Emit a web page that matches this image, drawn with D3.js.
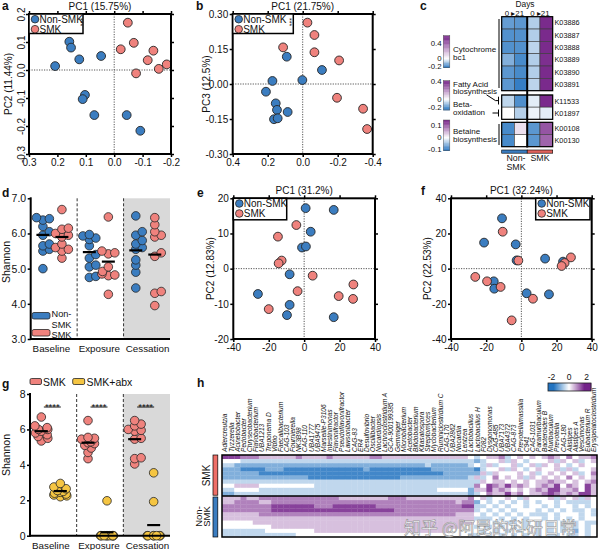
<!DOCTYPE html>
<html>
<head>
<meta charset="utf-8">
<script src="https://cdn.jsdelivr.net/npm/d3@7"></script>
<style>
  body { margin: 0; background: #fff; }
</style>
</head>
<body>
<svg id="fig" width="600" height="550"></svg>
<script>
// ---------- data ----------

// a: PCoA PC1 vs PC2
var aNonPC1 = [0.158, 0.152, 0.208, 0.123, 0.046, 0.103, 0.111, 0.070, -0.044, -0.092];
var aNonPC2 = [0.101, 0.080, 0.014, 0.038, 0.050, -0.089, -0.104, -0.161, -0.161, -0.217];
var aSmkPC1 = [-0.048, -0.069, -0.023, -0.138, -0.118, -0.185, -0.157, -0.077];
var aSmkPC2 = [0.169, 0.097, 0.074, 0.069, 0.035, 0.020, 0.004, -0.012];

// b: PC1 vs PC3
var bNonPC1 = [0.091, -0.110, 0.173, 0.002, 0.210, 0.154, 0.147, 0.086, 0.164, 0.143];
var bNonPC3 = [0.117, 0.060, 0.013, 0.017, -0.033, -0.083, -0.111, -0.120, -0.151, -0.147];
var bSmkPC1 = [-0.027, -0.067, 0.112, -0.067, -0.208, -0.196, -0.345, -0.368];
var bSmkPC3 = [0.263, 0.210, 0.157, 0.136, 0.101, -0.059, -0.106, -0.193];

// c: KO heatmap (Non-SMK d0, d21, SMK d0, d21)
var cCols = ["Non-SMK 0", "Non-SMK 21", "SMK 0", "SMK 21"];
var cKO = [["K03886", "K03887", "K03888", "K03889", "K03890", "K03891"], ["K11533", "K01897"], ["K00108", "K00130"]];
var cVals = [
  [[-0.16, -0.17, -0.08, 0.55], [-0.18, -0.18, -0.08, 0.56], [-0.18, -0.18, -0.07, 0.55],
   [-0.13, -0.19, -0.08, 0.54], [-0.17, -0.19, -0.08, 0.55], [-0.17, -0.21, -0.07, 0.56]],
  [[-0.07, -0.19, -0.03, 0.40], [0.0, -0.08, -0.02, -0.03]],
  [[-0.09, 0.02, -0.08, 0.11], [-0.09, 0.0, -0.08, 0.10]]
];
var cBarDomain = [[-0.245, 0.6], [-0.255, 0.42], [-0.115, 0.15]];
var cBarTicks = [[0.4, 0, -0.2], [0.4, 0, -0.2], [0.1, 0, -0.1]];
var cTickText = [["0.4", "0", "-0.2"], ["0.4", "0", "-0.2"], ["0.1", "0", "-0.1"]];

// d: Shannon, Non-SMK vs SMK
var phases = ["Baseline", "Exposure", "Cessation"];
var dShannonNon = [
  [6.45, 6.42, 6.38, 6.2, 6.05, 5.95, 5.7, 5.65, 5.55, 5.5, 5.0],
  [5.97, 5.93, 5.87, 5.83, 5.65, 5.4, 5.3, 5.1, 5.05, 4.78, 4.75],
  [6.5, 6.05, 5.95, 5.8, 5.7, 5.6, 5.55, 5.25, 5.1, 4.9, 4.45]];
var dShannonSmk = [
  [6.68, 6.15, 6.12, 6.0, 5.95, 5.9, 5.7, 5.6, 5.55, 5.5, 5.3],
  [6.47, 5.5, 5.45, 5.42, 5.05, 4.92, 4.85, 4.82, 4.8, 4.27],
  [6.45, 6.25, 6.05, 5.95, 5.9, 5.45, 5.35, 4.35, 4.3, 3.95]];
var dMeanNon = [5.96, 5.47, 5.52];
var dMeanSmk = [5.9, 5.2, 5.4];

// e, f: PCA
var eNonPC1 = [0.85, 16.7, 3.7, -1.2, 1.0, -8.2, -26.1, -8.2, -9.7, 16.7];
var eNonPC2 = [17.2, 16.7, 10.5, 6.0, 6.3, -1.6, -7.2, -10.3, -13.2, -13.8];
var eSmkPC1 = [-4.4, -14.8, -12.7, -14.4, 4.8, -3.7, 27.8, 19.5, 27.6, -20.0];
var eSmkPC2 = [12.4, 9.1, 2.3, 1.5, -2.0, -6.4, -4.5, -7.8, -8.6, -11.5];

var fNonPC1 = [-11.0, -21.2, -3.2, -2.7, 13.5, 23.7, -15.7, -15.4, 3.0, 15.7];
var fNonPC2 = [28.6, 14.8, 13.8, 4.7, 5.7, 4.0, -7.2, -11.4, -14.0, -14.6];
var fSmkPC1 = [-10.6, -1.7, 28.2, 24.6, 22.9, -26.2, -19.5, -11.8, 6.6, -5.5];
var fSmkPC2 = [21.0, 4.6, 6.4, 3.2, 1.5, -4.7, -7.2, -10.4, -17.1, -29.4];

// g: Shannon, SMK vs SMK+abx
var gShannonSmk = [
  [6.7, 6.2, 6.1, 6.0, 6.0, 5.9, 5.8, 5.7, 5.6, 5.5, 5.35],
  [6.5, 5.55, 5.5, 5.45, 5.3, 5.25, 5.2, 5.1, 4.95, 4.7, 4.35],
  [6.5, 6.3, 6.2, 6.0, 5.95, 5.9, 5.5, 5.45, 4.4, 4.35, 4.05]];
var gShannonAbx = [
  [2.95, 2.75, 2.65, 2.55, 2.5, 2.45, 2.4, 2.35, 2.25, 2.2, 2.3],
  [1.97, 0, 0, 0, 0, 0, 0, 0, 0, 0],
  [3.55, 1.92, 0, 0, 0, 0, 0, 0, 0]];
var gMeanSmk = [5.9, 5.25, 5.45];
var gMeanAbx = [2.52, 0.19, 0.6];
var gSig = ["****", "****", "****"];

// h: genus z-scores, digit d -> (d - 4) / 2
var hGenera = ["Adlercreutzia", "Tyzzerella", "Acinetobacter", "Pedobacter", "Chryseobacterium", "Flavobacterium",
  "UBA1213", "Treponema D", "Vibrio", "Faecalibacterium", "CAG-103", "Fournierella", "NK3B98", "CAG-110",
  "UBA1777", "UBA9475", "Marseille-P3106", "Intestinimonas", "Flavonifractor", "Pseudoflavonifractor",
  "Lawsonibacter", "CAG-83", "ER4", "Desulfovibrio", "Oscillibacter", "Nocardiopsis", "Lachnoclostridium A",
  "GCA-900199385", "Gemmiger", "Microbacterium", "Acetobacter", "Bifidobacterium", "Kitasatospora",
  "Streptomyces", "Mycobacterium", "Ruminiclostridium C", "CAG-170", "UBA2862", "Nocardia", "Lentzea",
  "Lactobacillus", "Lactobacillus H", "F082", "Dysgonomonas", "CAG-485", "UBA7173", "UBA4372", "CAG-873",
  "Prevotellamassilia", "C941", "CAG-1031", "Paramuribaculum", "Bacteroides B", "Muribaculum", "Prevotella",
  "CAG-180", "Alistipes", "Alistipes A", "Vescimonas", "Eubacterium R", "Erysipelatoclostridium"];
var hGroups = ["SMK", "Non-SMK"];
var hSmk = [
  "7776665555 5565555655 5555665555 5555555555 4 3455634545 4565464556",
  "4443333333 3333333333 3333333333 3333333333 3 2344535434 4453545345",
  "3322222222 2222222222 2222222222 2223222222 3 4353445345 3545434544",
  "2221111222 1111111111 1112111111 1111222222 2 1344535434 5445353445",
  "2222221111 1111111111 1111111111 1111112222 2 2535444545 3454545346",
  "2222222222 2222111111 1111111112 2222222222 3 5346454535 4545464545",
  "3333333333 3333333333 3333333333 3333333333 3 3545545454 5565545456",
  "4455554444 4444433333 3333333333 3333333333 3 6476575654 5657465475",
  "3344443333 3333333333 3333333333 3333344444 2 5575654545 6577556475",
  "2233333333 3333333333 3333333333 3333333333 2 3465575645 5676565775"];
var hNon = [
  "5556556666 6666666665 5555555666 5555555555 6 4534454354 4453545354",
  "5566665566 6666666666 6666666666 6666666656 6 2434343434 3443433334",
  "6666666677 7777766677 7777766666 6666666667 7 3343434434 4343443434",
  "6666666677 7777777777 7777777766 6666666666 6 3434343444 3434343343",
  "5555556666 6666666666 6666666666 6666666655 5 4343434343 3343444343",
  "5555555555 5555555555 5555555555 5555555555 5 3334343434 4343434344",
  "4444455555 5555555555 5555555555 5555555555 5 4343433434 3434343433",
  "4444444455 5555555555 5555555555 5555555554 4 3434343434 3434343434",
  "3333333444 4444455555 5555555555 5555555444 4 4343434344 3434342434",
  "3333333333 3344444444 4444444444 4444444444 3 3434343434 3433433434"];

// ---------- drawing ----------
var FONT = "'Liberation Sans', Arial, Helvetica, sans-serif";
var BLUE = "#3b7dc0", RED = "#ef827d", YEL = "#f5c542", EDGE = "#262626";

var svg = d3.select("#fig");
svg.append("rect").attr("width", 600).attr("height", 550).attr("fill", "#fff");

function label(g, s, x, y, size, o) {
  o = o || {};
  var t = g.append("text").attr("x", x).attr("y", y).text(s)
    .attr("font-size", size).attr("font-family", o.family || FONT).attr("fill", o.fill || "#111")
    .attr("text-anchor", o.anchor || "start");
  if (o.rot) t.attr("transform", "rotate(" + o.rot + "," + x + "," + y + ")");
  if (o.bold) t.attr("font-weight", "bold");
  if (o.italic) t.attr("font-style", "italic");
  return t;
}

function styleAxis(sel) {
  sel.attr("font-family", FONT).attr("font-size", 10);
  sel.select(".domain").remove();
  sel.selectAll(".tick line").attr("stroke", "#000").attr("stroke-width", 1.5);
  sel.selectAll(".tick text").attr("fill", "#111");
}

function scatter(o) {
  var g = svg.append("g");
  var x = d3.scaleLinear().domain(o.xdom).range([o.l, o.r]);
  var y = d3.scaleLinear().domain(o.ydom).range([o.b, o.t]);

  g.append("line").attr("x1", x(0)).attr("x2", x(0)).attr("y1", o.t).attr("y2", o.b)
    .attr("stroke", "#555").attr("stroke-width", 1).attr("stroke-dasharray", "1.2,1.3");
  g.append("line").attr("x1", o.l).attr("x2", o.r).attr("y1", y(0)).attr("y2", y(0))
    .attr("stroke", "#555").attr("stroke-width", 1).attr("stroke-dasharray", "1.2,1.3");

  var pts = o.nonX.map(function (v, i) { return { x: v, y: o.nonY[i], c: BLUE }; })
    .concat(o.smkX.map(function (v, i) { return { x: v, y: o.smkY[i], c: RED }; }));
  g.selectAll("circle.pt").data(pts).join("circle").attr("class", "pt")
    .attr("cx", function (d) { return x(d.x); })
    .attr("cy", function (d) { return y(d.y); })
    .attr("r", 4.4)
    .attr("fill", function (d) { return d.c; })
    .attr("stroke", EDGE).attr("stroke-width", 0.9);

  var bx = g.append("g").attr("transform", "translate(0," + o.b + ")")
    .call(d3.axisBottom(x).tickValues(o.xt).tickFormat(o.fx).tickSize(3).tickPadding(2).tickSizeOuter(0));
  styleAxis(bx);
  var tx = g.append("g").attr("transform", "translate(0," + o.t + ")")
    .call(d3.axisTop(x).tickValues(o.xt).tickFormat("").tickSize(3).tickSizeOuter(0));
  styleAxis(tx);
  var ly = g.append("g").attr("transform", "translate(" + o.l + ",0)")
    .call(d3.axisLeft(y).tickValues(o.yt).tickFormat(o.fy).tickSize(3).tickPadding(1.5).tickSizeOuter(0));
  styleAxis(ly);
  if (o.rotY) {
    ly.selectAll(".tick text").attr("x", 0).attr("y", 0).attr("dy", 0)
      .attr("text-anchor", "middle").attr("transform", "translate(-4.5,0) rotate(-90)");
  }
  var ry = g.append("g").attr("transform", "translate(" + o.r + ",0)")
    .call(d3.axisRight(y).tickValues(o.yt).tickFormat("").tickSize(3).tickSizeOuter(0));
  styleAxis(ry);

  g.append("rect").attr("x", o.l).attr("y", o.t).attr("width", o.r - o.l).attr("height", o.b - o.t)
    .attr("fill", "none").attr("stroke", "#000").attr("stroke-width", 2);

  label(g, o.title, (o.l + o.r) / 2, o.t - 4.5, 10, { anchor: "middle" });
  label(g, o.ylab, o.ylx, (o.t + o.b) / 2, 10, { anchor: "middle", rot: -90 });

  var lg = g.append("g").attr("transform", "translate(" + o.lg[0] + "," + o.lg[1] + ")");
  lg.append("rect").attr("width", o.lg[2]).attr("height", o.lg[3])
    .attr("fill", "#fff").attr("stroke", "#000").attr("stroke-width", 1.5);
  [["Non-SMK", BLUE], ["SMK", RED]].forEach(function (d, i) {
    lg.append("circle").attr("cx", 6).attr("cy", 5.2 + i * 10).attr("r", 3.8)
      .attr("fill", d[1]).attr("stroke", EDGE).attr("stroke-width", 0.8);
    label(lg, d[0], 10.5, 8.8 + i * 10, 10);
  });
  if (o.stars) {
    label(lg, "***", o.stars, 4, 7, { rot: 90 });
  }
}

scatter({ l: 29, r: 171, t: 14, b: 154, xdom: [0.3, -0.2], ydom: [-0.3, 0.2],
  xt: [0.3, 0.2, 0.1, 0, -0.1, -0.2], yt: [-0.3, -0.2, -0.1, 0, 0.1, 0.2],
  fx: function (d) { return d.toFixed(1); }, fy: function (d) { return d.toFixed(1); }, rotY: true,
  nonX: aNonPC1, nonY: aNonPC2, smkX: aSmkPC1, smkY: aSmkPC2,
  title: "PC1 (15.75%)", ylab: "PC2 (11.44%)", ylx: 11.5, lg: [29, 14, 54, 19.5], stars: 49 });

scatter({ l: 232.7, r: 372.7, t: 14, b: 154, xdom: [0.4, -0.4], ydom: [-0.3, 0.3],
  xt: [0.4, 0.2, 0, -0.2, -0.4], yt: [-0.3, -0.15, 0, 0.15, 0.3],
  fx: function (d) { return d.toFixed(1); }, fy: function (d) { return d.toFixed(2); },
  nonX: bNonPC1, nonY: bNonPC3, smkX: bSmkPC1, smkY: bSmkPC3,
  title: "PC1 (21.75%)", ylab: "PC3 (12.5%)", ylx: 209.5, lg: [232.7, 14, 60.6, 19.5], stars: 54 });

scatter({ l: 233.3, r: 375, t: 198.3, b: 339, xdom: [-40, 40], ydom: [-20, 20],
  xt: [-40, -20, 0, 20, 40], yt: [-20, -10, 0, 10, 20],
  fx: function (d) { return d; }, fy: function (d) { return d; },
  nonX: eNonPC1, nonY: eNonPC2, smkX: eSmkPC1, smkY: eSmkPC2,
  title: "PC1 (31.2%)", ylab: "PC2 (12.83%)", ylx: 214, lg: [233.3, 198.3, 53.4, 21.5] });

scatter({ l: 451, r: 591.7, t: 198.3, b: 339, xdom: [-40, 40], ydom: [-40, 40],
  xt: [-40, -20, 0, 20, 40], yt: [-40, -20, 0, 20, 40],
  fx: function (d) { return d; }, fy: function (d) { return d; },
  nonX: fNonPC1, nonY: fNonPC2, smkX: fSmkPC1, smkY: fSmkPC2,
  title: "PC1 (32.24%)", ylab: "PC2 (22.53%)", ylx: 431.5, lg: [535.7, 198.3, 54.3, 21.5] });

// tight swarm: dots of a group may overlap, as in the source
function swarm(vals, y, cx, r) {
  var placed = [];
  var order = vals.map(function (v, i) { return i; }).sort(function (a, b) { return vals[a] - vals[b]; });
  var steps = [0, 1, -1, 2, -2];
  var step = r * 0.75;
  order.forEach(function (i) {
    var py = y(vals[i]), px = null;
    for (var k = 0; k < steps.length; k++) {
      var cand = cx + steps[k] * step;
      if (placed.every(function (p) { return Math.hypot(p.x - cand, p.y - py) >= r * 1.15; })) { px = cand; break; }
    }
    if (px === null) px = cx + steps[placed.length % steps.length] * step * 0.9;
    placed.push({ x: px, y: py });
  });
  return placed;
}

function strip(o) {
  var g = svg.append("g");
  var x = d3.scaleBand().domain(phases).range([o.l, o.r]);
  var y = d3.scaleLinear().domain(o.ydom).range([o.b, o.t]);
  var xc = function (p) { return x(p) + x.bandwidth() / 2; };

  g.append("rect").attr("x", x("Cessation")).attr("y", o.t)
    .attr("width", o.r - x("Cessation")).attr("height", o.b - o.t).attr("fill", "#d9d9d9");
  ["Exposure", "Cessation"].forEach(function (p) {
    g.append("line").attr("x1", x(p)).attr("x2", x(p)).attr("y1", o.t).attr("y2", o.b)
      .attr("stroke", "#333").attr("stroke-width", 1).attr("stroke-dasharray", "3,2");
  });

  o.series.forEach(function (s) {
    phases.forEach(function (p, j) {
      var pos = swarm(s.vals[j], y, xc(p) + s.off, 4.3);
      g.selectAll(null).data(pos).join("circle")
        .attr("cx", function (d) { return d.x; }).attr("cy", function (d) { return d.y; })
        .attr("r", 4.3).attr("fill", s.color).attr("stroke", EDGE).attr("stroke-width", 0.8);
    });
  });
  o.series.forEach(function (s) {
    phases.forEach(function (p, j) {
      var cx = xc(p) + s.off;
      g.append("line").attr("x1", cx - 6.5).attr("x2", cx + 6.5)
        .attr("y1", y(s.mean[j])).attr("y2", y(s.mean[j]))
        .attr("stroke", "#000").attr("stroke-width", 2.2);
    });
  });

  var ay = g.append("g").attr("transform", "translate(" + o.l + ",0)")
    .call(d3.axisLeft(y).tickValues(o.yt).tickSize(3).tickPadding(1.5).tickSizeOuter(0));
  styleAxis(ay);
  ay.selectAll(".tick text").attr("font-size", 10.5);
  g.append("line").attr("x1", o.l).attr("x2", o.l).attr("y1", o.t - 1).attr("y2", o.b + 1)
    .attr("stroke", "#000").attr("stroke-width", 2);
  g.append("line").attr("x1", o.l).attr("x2", o.r).attr("y1", o.b).attr("y2", o.b)
    .attr("stroke", "#000").attr("stroke-width", 2);
  var nudge = [-2.5, -1, 0.8];
  phases.forEach(function (p, j) { label(g, p, xc(p) + nudge[j], o.b + 13, 9.8, { anchor: "middle" }); });
  label(g, "Shannon", o.ylx, o.ylc, 10.5, { anchor: "middle", rot: -90 });

  if (o.sig) {
    phases.forEach(function (p, j) {
      var c = xc(p) - 1;
      g.append("line").attr("x1", c - 8.5).attr("x2", c + 8.5).attr("y1", o.sigY).attr("y2", o.sigY)
        .attr("stroke", "#000").attr("stroke-width", 0.9);
      label(g, o.sig[j], c, o.sigY + 3, 9.5, { anchor: "middle" });
    });
  }
  return g;
}

var dG = strip({ l: 30.7, r: 170, t: 198.3, b: 339, ydom: [3, 7], yt: [3, 4, 5, 6, 7], ylx: 10, ylc: 262,
  series: [{ vals: dShannonNon, mean: dMeanNon, color: BLUE, off: -11 },
           { vals: dShannonSmk, mean: dMeanSmk, color: RED, off: 8 }] });
label(dG, "Non-", 51.5, 317.2, 9.2);
label(dG, "SMK", 51.5, 327.6, 9.2);
label(dG, "SMK", 51.5, 337.8, 9.2);
dG.append("rect").attr("x", 32).attr("y", 312.5).attr("width", 18).attr("height", 6.5).attr("rx", 2)
  .attr("fill", BLUE).attr("stroke", EDGE).attr("stroke-width", 0.8);
dG.append("rect").attr("x", 32).attr("y", 329.5).attr("width", 18).attr("height", 6.5).attr("rx", 2)
  .attr("fill", RED).attr("stroke", EDGE).attr("stroke-width", 0.8);

var gG = strip({ l: 30, r: 170, t: 394, b: 535.7, ydom: [0, 8], yt: [0, 2, 4, 6, 8], ylx: 9.5, ylc: 455,
  series: [{ vals: gShannonSmk, mean: gMeanSmk, color: RED, off: -12 },
           { vals: gShannonAbx, mean: gMeanAbx, color: YEL, off: 7 }],
  sig: gSig, sigY: 407 });
gG.append("rect").attr("x", 30).attr("y", 378.5).attr("width", 11.5).attr("height", 6).attr("rx", 1.5)
  .attr("fill", RED).attr("stroke", EDGE).attr("stroke-width", 0.8);
label(gG, "SMK", 43, 385.5, 10.5);
gG.append("rect").attr("x", 72.7).attr("y", 378.5).attr("width", 12).attr("height", 6).attr("rx", 1.5)
  .attr("fill", YEL).attr("stroke", EDGE).attr("stroke-width", 0.8);
label(gG, "SMK+abx", 86.5, 385.5, 10.5);

// ---------- c: KO heatmap ----------
var cG = svg.append("g");
var cx = d3.scaleBand().domain(cCols).range([501.7, 552.7]);
var cBlocks = [[16.7, 90.7], [95, 119.3], [122.3, 146.7]];
var cBars = [[35.7, 67.7], [80.7, 110], [120, 150.7]];
function cColor(b) {
  var dm = cBarDomain[b];
  return d3.scaleLinear().domain([dm[0] * 0.9, 0, dm[1] * 0.92]).range(["#2b78c2", "#ffffff", "#7a2a8c"]).clamp(true);
}
cKO.forEach(function (rows, b) {
  var ry = d3.scaleBand().domain(rows).range(cBlocks[b]);
  var col = cColor(b);
  rows.forEach(function (k, i) {
    cCols.forEach(function (c, j) {
      cG.append("rect").attr("x", cx(c)).attr("y", ry(k)).attr("width", cx.bandwidth()).attr("height", ry.bandwidth())
        .attr("fill", col(cVals[b][i][j])).attr("stroke", "#3a3a3a").attr("stroke-width", 0.6);
    });
    label(cG, k, 554.5, ry(k) + ry.bandwidth() / 2 + 2.6, 7.3);
  });
  cG.append("rect").attr("x", 501.7).attr("y", cBlocks[b][0]).attr("width", 51).attr("height", cBlocks[b][1] - cBlocks[b][0])
    .attr("fill", "none").attr("stroke", "#000").attr("stroke-width", 1.2);

  // small colour bar for the block
  var pos = d3.scaleLinear().domain(cBarDomain[b]).range([cBars[b][1], cBars[b][0]]);
  var n = 40, h = (cBars[b][1] - cBars[b][0]) / n;
  d3.range(n).forEach(function (s) {
    var v = pos.invert(cBars[b][1] - (s + 0.5) * h);
    cG.append("rect").attr("x", 443.3).attr("y", cBars[b][1] - (s + 1) * h).attr("width", 6.5).attr("height", h + 0.3)
      .attr("fill", col(v));
  });
  cG.append("rect").attr("x", 443.3).attr("y", cBars[b][0]).attr("width", 6.5).attr("height", cBars[b][1] - cBars[b][0])
    .attr("fill", "none").attr("stroke", "#555").attr("stroke-width", 0.5);
  cBarTicks[b].forEach(function (t, i) {
    label(cG, cTickText[b][i], 441.5, pos(t) + 2.7, 7.8, { anchor: "end" });
  });
});
cG.append("line").attr("x1", cx("SMK 0")).attr("x2", cx("SMK 0")).attr("y1", 16).attr("y2", 147.5)
  .attr("stroke", "#000").attr("stroke-width", 2);
// group bars under the heatmap
cG.append("rect").attr("x", 501.7).attr("y", 150).attr("width", cx("SMK 0") - 501.7).attr("height", 3.2)
  .attr("fill", BLUE).attr("stroke", "#000").attr("stroke-width", 0.6);
cG.append("rect").attr("x", cx("SMK 0")).attr("y", 150).attr("width", 552.7 - cx("SMK 0")).attr("height", 3.2)
  .attr("fill", "#e0625c").attr("stroke", "#000").attr("stroke-width", 0.6);
label(cG, "Non-", 516, 161.3, 8.8, { anchor: "middle" });
label(cG, "SMK", 516, 170.3, 8.8, { anchor: "middle" });
label(cG, "SMK", 540, 161.3, 8.8, { anchor: "middle" });
label(cG, "Days", 525, 6.8, 8.4, { anchor: "middle" });
label(cG, "0 \u25B821", cx("Non-SMK 21"), 16, 7.9, { anchor: "middle" });
label(cG, "0 \u25B821", cx("SMK 21"), 16, 7.9, { anchor: "middle" });
// brackets and group names
function cl(x1, y1, x2, y2) {
  cG.append("line").attr("x1", x1).attr("y1", y1).attr("x2", x2).attr("y2", y2)
    .attr("stroke", "#000").attr("stroke-width", 1);
}
cl(499, 19, 499, 88);
cl(499, 124, 499, 145);
cl(498.5, 96.7, 498.5, 104.5); cl(486.5, 94.8, 495.5, 100.6); cl(495.5, 100.6, 498.5, 100.6);
cl(498.5, 109.5, 498.5, 116.5); cl(492.5, 113, 498.5, 113);
label(cG, "Cytochrome", 453, 51.8, 8);
label(cG, "bc1", 453, 60, 8);
label(cG, "Fatty Acid", 453, 86.6, 8);
label(cG, "biosynthesis", 453, 94.4, 8);
label(cG, "Beta-", 453, 106.8, 8);
label(cG, "oxidation", 453, 114.8, 8);
label(cG, "Betaine", 453, 134.2, 8);
label(cG, "biosynthesis", 453, 142.2, 8);

// ---------- h: genus heatmap ----------
var hG = svg.append("g");
var hRows = hSmk.concat(hNon).map(function (s) {
  return s.replace(/ /g, "").split("").map(function (c) { return (+c - 4) / 2; });
});
var hx = d3.scaleBand().domain(hGenera).range([222, 597]);
var hy = d3.scaleBand().domain(d3.range(hRows.length)).range([455, 537]);
var hColor = d3.scaleLinear().domain([-1.75, 0, 1.75]).range(["#2273c0", "#ffffff", "#74238a"]).clamp(true);
hRows.forEach(function (row, i) {
  hG.selectAll(null).data(row).join("rect")
    .attr("x", function (d, j) { return hx(hGenera[j]); })
    .attr("y", hy(i))
    .attr("width", hx.bandwidth() + 0.3).attr("height", hy.bandwidth() + 0.3)
    .attr("fill", function (d) { return hColor(d); });
});
hG.append("rect").attr("x", 222).attr("y", 455).attr("width", 375).attr("height", 82)
  .attr("fill", "none").attr("stroke", "#000").attr("stroke-width", 1.5);
hG.append("line").attr("x1", 222).attr("x2", 597).attr("y1", hy(10)).attr("y2", hy(10))
  .attr("stroke", "#000").attr("stroke-width", 1.5);
hG.selectAll("text.gen").data(hGenera).join("text").attr("class", "gen")
  .attr("transform", function (d) { return "translate(" + (hx(d) + hx.bandwidth() / 2 + 2.4) + ",452) rotate(-90)"; })
  .attr("font-family", FONT).attr("font-size", 6.6).attr("font-style", "italic").attr("fill", "#111")
  .text(function (d) { return d; });
// group side bars
hG.append("rect").attr("x", 213).attr("y", 455).attr("width", 4.8).attr("height", hy(10) - 455.8)
  .attr("fill", "#ee6f68").attr("stroke", "#000").attr("stroke-width", 0.7);
hG.append("rect").attr("x", 213).attr("y", hy(10) + 1).attr("width", 4.8).attr("height", 537 - hy(10) - 1)
  .attr("fill", BLUE).attr("stroke", "#000").attr("stroke-width", 0.7);
label(hG, hGroups[0], 210, (455 + hy(10)) / 2, 10, { anchor: "middle", rot: -90 });
label(hG, "Non-", 202, (hy(10) + 537) / 2, 9.5, { anchor: "middle", rot: -90 });
label(hG, "SMK", 210, (hy(10) + 537) / 2, 9.5, { anchor: "middle", rot: -90 });
// colour key
var hk = d3.scaleLinear().domain([-2, 2]).range([551.5, 586.5]);
d3.range(43).forEach(function (s) {
  hG.append("rect").attr("x", 548 + s).attr("y", 383).attr("width", 1.3).attr("height", 8)
    .attr("fill", hColor(hk.invert(548.5 + s)));
});
hG.append("rect").attr("x", 548).attr("y", 383).attr("width", 43).attr("height", 8)
  .attr("fill", "none").attr("stroke", "#222").attr("stroke-width", 0.8);
[-2, 0, 2].forEach(function (t) { label(hG, t, hk(t), 380, 8.5, { anchor: "middle" }); });

// panel letters
[["a", 2, 9.5], ["b", 196, 9.5], ["c", 420, 10], ["d", 2, 197], ["e", 197, 197],
 ["f", 421, 195], ["g", 2, 388], ["h", 197, 386.5]].forEach(function (d) {
  label(svg, d[0], d[1], d[2], 12, { bold: true });
});

// watermark carried by the source image
label(svg, "知乎 @阿昆的科研日常", 404, 534, 17, { family: "'Noto Sans CJK SC', sans-serif", fill: "#ffffff" })
  .attr("stroke", "#8c8c8c").attr("stroke-width", 0.6).attr("opacity", 0.92);
</script>
</body>
</html>
